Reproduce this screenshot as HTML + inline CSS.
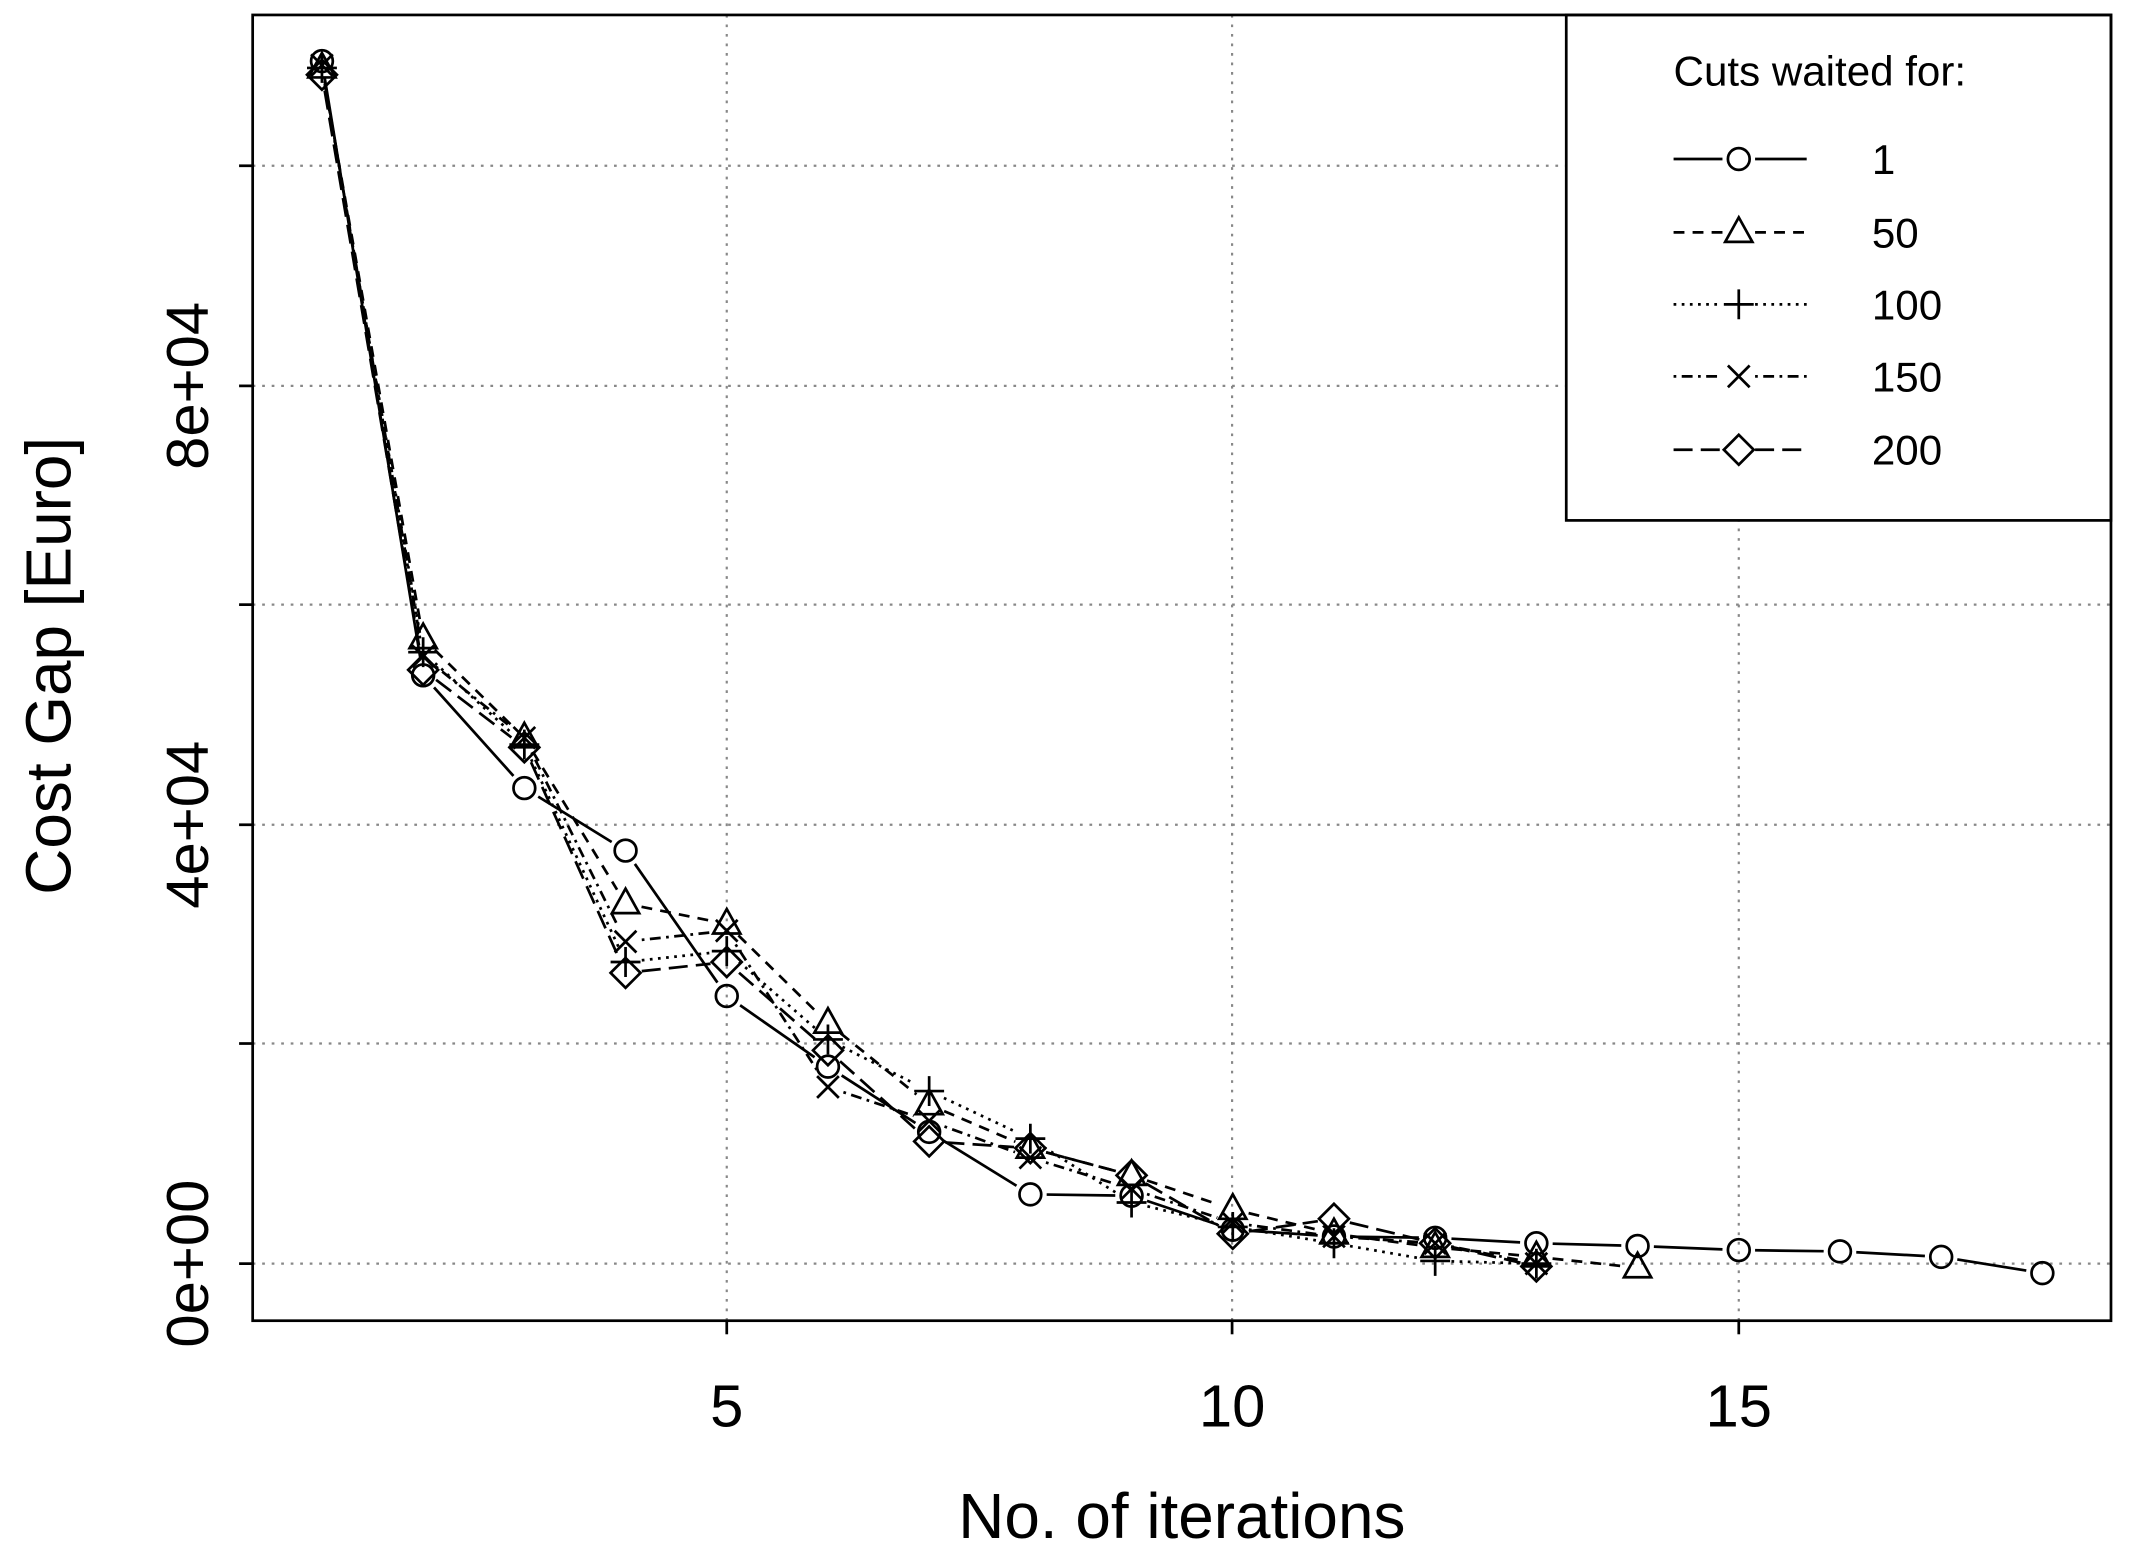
<!DOCTYPE html>
<html><head><meta charset="utf-8"><style>html,body{margin:0;padding:0;background:#fff}svg{display:block}</style></head>
<body>
<svg id="s" xmlns="http://www.w3.org/2000/svg" width="2130" height="1568" viewBox="0 0 1568 1154" preserveAspectRatio="none" font-family="Liberation Sans, sans-serif">
<rect width="1568" height="1154" fill="#fff"/>
<g stroke="#888" stroke-width="1.6" stroke-dasharray="2,5">
<line x1="186" x2="1554" y1="122" y2="122"/><line x1="186" x2="1554" y1="284" y2="284"/><line x1="186" x2="1554" y1="445" y2="445"/><line x1="186" x2="1554" y1="607" y2="607"/><line x1="186" x2="1554" y1="768" y2="768"/><line x1="186" x2="1554" y1="930" y2="930"/>
<line x1="535" x2="535" y1="11" y2="972"/><line x1="907" x2="907" y1="11" y2="972"/><line x1="1280" x2="1280" y1="11" y2="972"/>
</g>
<g stroke="#000" stroke-width="2">
<line x1="176" x2="186" y1="122" y2="122"/><line x1="176" x2="186" y1="284" y2="284"/><line x1="176" x2="186" y1="445" y2="445"/><line x1="176" x2="186" y1="607" y2="607"/><line x1="176" x2="186" y1="768" y2="768"/><line x1="176" x2="186" y1="930" y2="930"/>
<line x1="535" x2="535" y1="972" y2="982"/><line x1="907" x2="907" y1="972" y2="982"/><line x1="1280" x2="1280" y1="972" y2="982"/>
</g>
<g font-size="44" text-anchor="middle">
<text transform="translate(153,930) rotate(-90)">0e+00</text>
<text transform="translate(153,607) rotate(-90)">4e+04</text>
<text transform="translate(153,284) rotate(-90)">8e+04</text>
<text x="535" y="1050">5</text><text x="907" y="1050">10</text><text x="1280" y="1050">15</text>
</g>
<text font-size="47" text-anchor="middle" x="870" y="1132">No. of iterations</text>
<text font-size="47" text-anchor="middle" transform="translate(52,490) rotate(-90)">Cost Gap [Euro]</text>
<g id="data" fill="none" stroke="#000" stroke-width="2"></g>
<rect x="1153" y="11" width="401" height="372" fill="#fff" stroke="#000" stroke-width="2"/>
<text x="1232" y="63" font-size="31">Cuts waited for:</text>
<g id="leg" fill="none" stroke="#000" stroke-width="2"></g>
<g font-size="31"><text x="1378" y="128">1</text><text x="1378" y="182">50</text><text x="1378" y="235">100</text><text x="1378" y="288">150</text><text x="1378" y="342">200</text></g>
<rect x="186" y="11" width="1368" height="961" fill="none" stroke="#000" stroke-width="2"/>
</svg>
<script>
var S=[
{m:'o',d:'',y:[45,497,580,626,733,785,833,879,880,905,910,911,915,917,920,921,925,937]},
{m:'t',d:'8,6',y:[50,470,543,665,680,753,813,845,865,890,908,918,925,933]},
{m:'p',d:'2,4',y:[50,480,548,708,700,765,803,838,885,903,915,928,930]},
{m:'x',d:'2,4,8,4',y:[48,483,543,693,685,800,825,852,875,900,910,915,930]},
{m:'d',d:'14,6',y:[55,493,550,716,708,773,840,845,865,908,897,915,932]}];
function X(i){return 237+74.5*i;}
function mk(t,x,y){var r=8;
 if(t=='o')return '<circle cx="'+x+'" cy="'+y+'" r="'+r+'"/>';
 if(t=='t')return '<polygon points="'+x+','+(y-11)+' '+(x+10)+','+(y+7)+' '+(x-10)+','+(y+7)+'"/>';
 if(t=='p')return '<path d="M'+(x-11)+' '+y+'H'+(x+11)+'M'+x+' '+(y-11)+'V'+(y+11)+'"/>';
 if(t=='x')return '<path d="M'+(x-8)+' '+(y-8)+'L'+(x+8)+' '+(y+8)+'M'+(x+8)+' '+(y-8)+'L'+(x-8)+' '+(y+8)+'"/>';
 return '<polygon points="'+x+','+(y-11)+' '+(x+11)+','+y+' '+x+','+(y+11)+' '+(x-11)+','+y+'"/>';}
var h='';
S.forEach(function(s){var g=12;
 for(var i=0;i<s.y.length-1;i++){var x1=X(i),y1=s.y[i],x2=X(i+1),y2=s.y[i+1];var dx=x2-x1,dy=y2-y1,L=Math.hypot(dx,dy);
  if(L>2*g)h+='<line x1="'+(x1+dx*g/L)+'" y1="'+(y1+dy*g/L)+'" x2="'+(x2-dx*g/L)+'" y2="'+(y2-dy*g/L)+'" stroke-dasharray="'+s.d+'"/>';}
 s.y.forEach(function(y,i){h+=mk(s.m,X(i),y);});});
document.getElementById('data').innerHTML=h;
var l='',ys=[117,171,224,277,331];
S.forEach(function(s,k){var y=ys[k];l+='<line x1="1232" x2="1268" y1="'+y+'" y2="'+y+'" stroke-dasharray="'+s.d+'"/><line x1="1292" x2="1330" y1="'+y+'" y2="'+y+'" stroke-dasharray="'+s.d+'"/>'+mk(s.m,1280,y);});
document.getElementById('leg').innerHTML=l;
</script>
</body></html>
